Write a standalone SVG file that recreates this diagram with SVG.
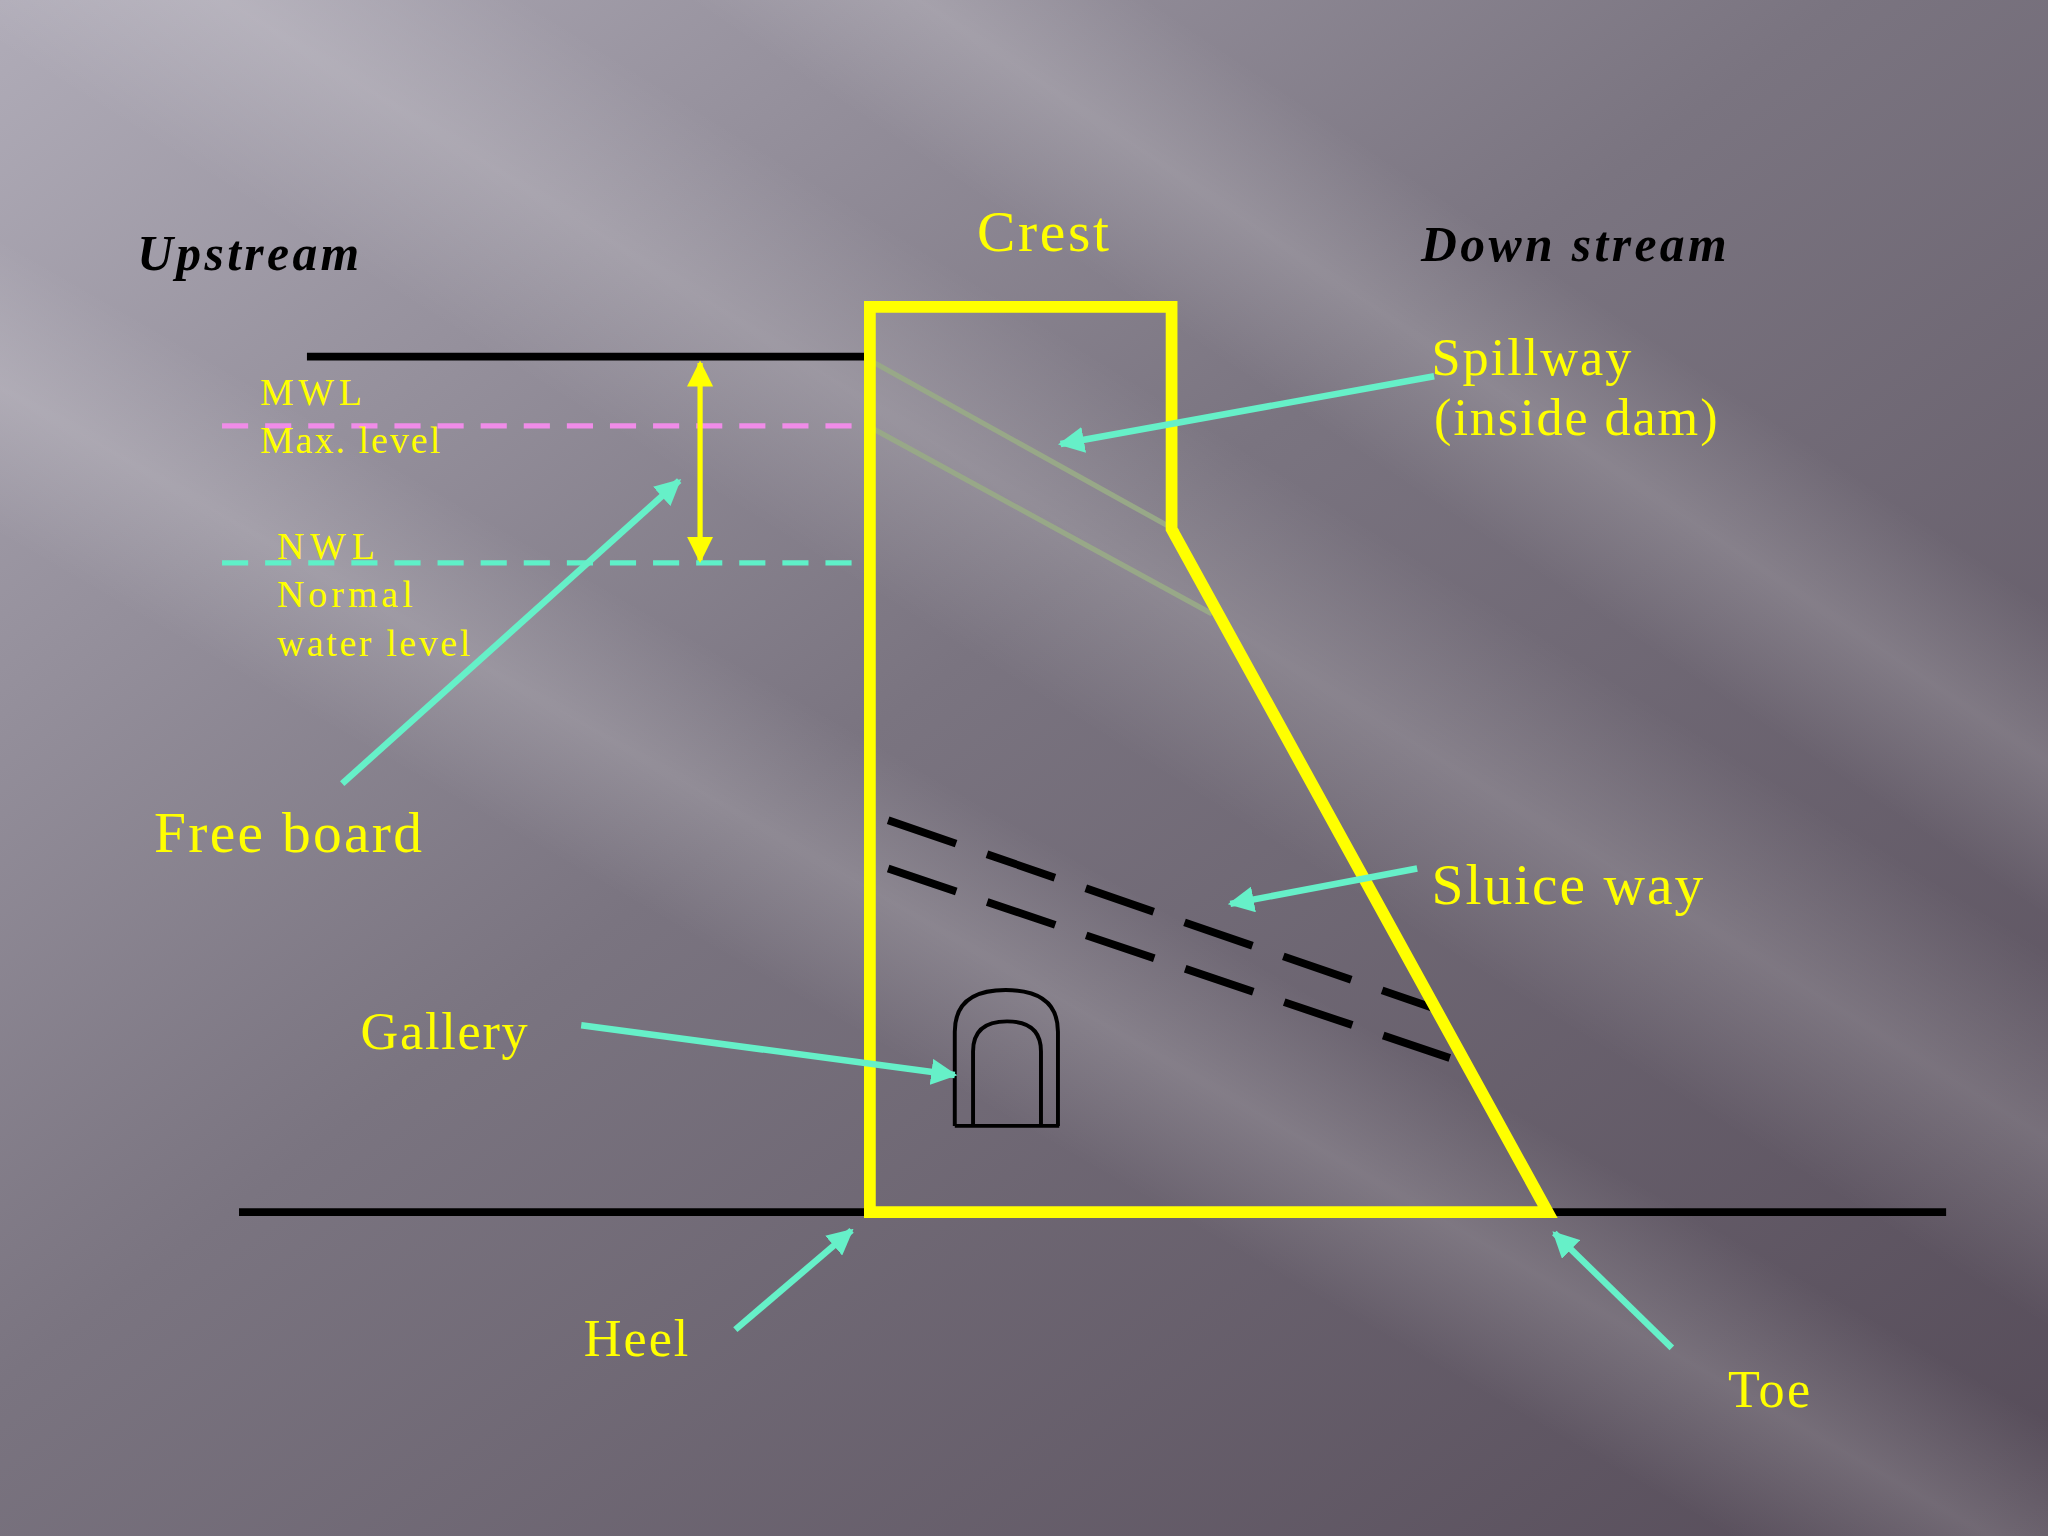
<svg xmlns="http://www.w3.org/2000/svg" width="2048" height="1536" viewBox="0 0 2048 1536">
<defs>
<linearGradient id="bg" x1="0" y1="0" x2="1" y2="1">
<stop offset="0" stop-color="#b0acb8"/>
<stop offset="0.45" stop-color="#7a7480"/>
<stop offset="1" stop-color="#554b58"/>
</linearGradient>
<linearGradient id="streak" x1="0" y1="0" x2="0" y2="1">
<stop offset="0" stop-color="#fff" stop-opacity="0"/>
<stop offset="0.5" stop-color="#fff" stop-opacity="0.16"/>
<stop offset="1" stop-color="#fff" stop-opacity="0"/>
</linearGradient>
<marker id="ah" viewBox="0 0 10 10" refX="9" refY="5" markerWidth="4" markerHeight="4" orient="auto-start-reverse" markerUnits="strokeWidth"><path d="M0,0 L10,5 L0,10 z" fill="#66f0c8"/></marker>
<marker id="ay" viewBox="0 0 10 10" refX="9" refY="5" markerWidth="5" markerHeight="5" orient="auto-start-reverse" markerUnits="strokeWidth"><path d="M0,0 L10,5 L0,10 z" fill="#ffff00"/></marker>
<style>
.t{font-family:"Liberation Serif",serif;fill:#ffff00}
.h{font-family:"Liberation Serif",serif;font-style:italic;font-weight:bold;fill:#000}
.ar{stroke:#66f0c8;stroke-width:5;fill:none;marker-end:url(#ah)}
.blk{stroke:#000;stroke-width:6;fill:none}
</style>
</defs>
<rect width="2048" height="1536" fill="url(#bg)"/>
<g>
<rect x="-800" y="380" width="3400" height="320" fill="url(#streak)" transform="rotate(32 1024 768)"/>
<rect x="-800" y="820" width="3400" height="260" fill="url(#streak)" transform="rotate(30 1024 768)"/>
<rect x="-800" y="60" width="3400" height="260" fill="url(#streak)" transform="rotate(34 1024 768)"/>
</g>
<g transform="scale(1.30612)">
<g id="ground">
<line x1="235" y1="273" x2="666" y2="273" class="blk" stroke-width="5"/>
<line x1="183" y1="928" x2="666" y2="928" class="blk"/>
<line x1="1185" y1="928" x2="1490" y2="928" class="blk"/>
</g>
<g id="levels">
<line x1="170" y1="326" x2="666" y2="326" stroke="#f08ce8" stroke-width="4" stroke-dasharray="20 13"/>
<line x1="170" y1="431" x2="666" y2="431" stroke="#5ff0c8" stroke-width="4" stroke-dasharray="20 13"/>
</g>
<g id="spillway">
<line x1="668" y1="277" x2="902" y2="407" stroke="#98a888" stroke-width="4"/>
<line x1="668" y1="328" x2="928" y2="470" stroke="#98a888" stroke-width="4"/>
</g>
<g id="sluice">
<line x1="680" y1="628" x2="1098" y2="772" class="blk" stroke-dasharray="55 25"/>
<line x1="680" y1="665" x2="1110" y2="810" class="blk" stroke-dasharray="55 25"/>
</g>
<g id="dam">
<path d="M666,928 L666,235 L897,235 L897,405 L1185,928 Z" fill="none" stroke="#ffff00" stroke-width="9" stroke-linejoin="miter"/>
</g>
<g id="gallery" fill="none" stroke="#000" stroke-width="3">
<path d="M731,862 L731,790 Q731,758 770,758 Q810,758 810,790 L810,862"/>
<path d="M745,862 L745,805 Q745,782 771,782 Q797,782 797,805 L797,862"/>
<line x1="731" y1="862" x2="811" y2="862"/>
</g>
<g id="connectors">
<line x1="536" y1="278" x2="536" y2="429" stroke="#ffff00" stroke-width="4" marker-start="url(#ay)" marker-end="url(#ay)"/>
<line x1="262" y1="600" x2="520" y2="368" class="ar"/>
<line x1="1098" y1="288" x2="812" y2="340" class="ar"/>
<line x1="1085" y1="665" x2="942" y2="692" class="ar" stroke-width="6"/>
<line x1="445" y1="785" x2="731" y2="823" class="ar"/>
<line x1="563" y1="1018" x2="652" y2="942" class="ar"/>
<line x1="1280" y1="1032" x2="1190" y2="944" class="ar"/>
</g>
<g id="labels">
<text x="105" y="207" class="h" font-size="38" textLength="170">Upstream</text>
<text x="1088" y="200" class="h" font-size="38" textLength="234">Down stream</text>
<text x="748" y="192" class="t" font-size="44" textLength="101">Crest</text>
<text x="199" y="310" class="t" font-size="29" textLength="78">MWL</text>
<text x="199" y="347" class="t" font-size="29" textLength="138">Max. level</text>
<text x="212" y="428" class="t" font-size="29" textLength="75">NWL</text>
<text x="212" y="465" class="t" font-size="29" textLength="104">Normal</text>
<text x="212" y="502" class="t" font-size="29" textLength="148">water level</text>
<text x="118" y="652" class="t" font-size="44" textLength="205">Free board</text>
<text x="1096" y="287" class="t" font-size="40" textLength="153">Spillway</text>
<text x="1098" y="333" class="t" font-size="40" textLength="217">(inside dam)</text>
<text x="1096" y="692" class="t" font-size="44" textLength="208">Sluice way</text>
<text x="276" y="803" class="t" font-size="40" textLength="128">Gallery</text>
<text x="447" y="1038" class="t" font-size="40" textLength="80">Heel</text>
<text x="1323" y="1077" class="t" font-size="40" textLength="63">Toe</text>
</g>
</g>
</svg>
